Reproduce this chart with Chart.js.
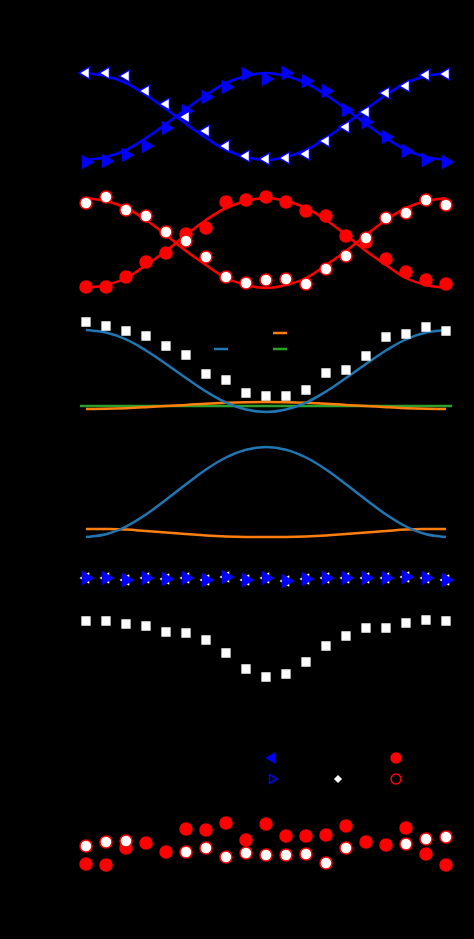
<!DOCTYPE html>
<html>
<head>
<meta charset="utf-8">
<script src="https://cdn.jsdelivr.net/npm/chart.js@4"></script>
<style>
  body { margin: 0; background: #000; width: 474px; height: 939px; overflow: hidden; }
  .panel { position: absolute; left: 0; width: 474px; }
</style>
</head>
<body>
<div class="panel" style="top:60px;height:115px"><canvas id="pA"></canvas></div>
<div class="panel" style="top:185px;height:115px"><canvas id="pB"></canvas></div>
<div class="panel" style="top:310px;height:110px"><canvas id="pC"></canvas></div>
<div class="panel" style="top:425px;height:120px"><canvas id="pD"></canvas></div>
<div class="panel" style="top:560px;height:40px"><canvas id="pE"></canvas></div>
<div class="panel" style="top:605px;height:85px"><canvas id="pF"></canvas></div>
<div class="panel" style="top:745px;height:45px"><canvas id="pG"></canvas></div>
<div class="panel" style="top:810px;height:70px"><canvas id="pH"></canvas></div>
<script>
// angle (deg)
const angles = [0, 20, 40, 60, 80, 100, 120, 140, 160, 180, 200, 220, 240, 260, 280, 300, 320, 340, 360];
const anglesWide = [-6, 0, 20, 40, 60, 80, 100, 120, 140, 160, 180, 200, 220, 240, 260, 280, 300, 320, 340, 360, 366];

// panel A (blue)
const blueOpen = [102, 102, 99, 84, 71, 58, 44, 29, 19, 16, 17, 21, 34, 48, 63, 82, 89, 100, 101];
const blueFilled = [13, 14, 20, 29, 47, 64, 78, 88, 101, 96, 102, 94, 84, 65, 53, 38, 24, 15, 13];
const blueFitDown = [102, 99, 92, 80, 66, 51, 37, 25, 18, 15, 18, 25, 37, 51, 66, 80, 92, 99, 102];
const blueFitUp = [15, 18, 25, 37, 51, 66, 80, 92, 99, 102, 99, 92, 80, 66, 51, 37, 25, 18, 15];

// panel B (red)
const redOpen = [97, 103, 90, 84, 68, 59, 43, 23, 17, 20, 21, 16, 31, 44, 62, 82, 87, 100, 95];
const redFilled = [13, 13, 23, 38, 47, 66, 72, 98, 100, 103, 98, 89, 84, 64, 58, 41, 28, 20, 16];
const redFitDown = [102, 99, 92, 80, 65, 49, 35, 22, 15, 12, 15, 22, 35, 49, 65, 80, 92, 99, 102];
const redFitUp = [12, 15, 22, 35, 49, 65, 80, 92, 99, 102, 99, 92, 80, 65, 49, 35, 22, 15, 12];

// panel C
const squaresC = [98, 94, 89, 84, 74, 65, 46, 40, 27, 24, 24, 30, 47, 50, 64, 83, 86, 93, 89];
const lineBlueC = [90, 87.5, 80.6, 69.5, 56, 42, 28.5, 17.4, 10.5, 8, 10.5, 17.4, 28.5, 42, 56, 69.5, 80.6, 87.5, 90];
const lineOrangeC = [11, 11.2, 11.8, 12.8, 14, 15, 16.3, 17.2, 17.8, 18, 17.8, 17.2, 16.3, 15, 14, 12.8, 11.8, 11.2, 11];
const lineGreenC = [14, 14, 14, 14, 14, 14, 14, 14, 14, 14, 14, 14, 14, 14, 14, 14, 14, 14, 14, 14, 14];

// panel D
const lineBlueD = [8, 10.7, 18.5, 30.5, 45.3, 60.7, 75.5, 87.5, 95.3, 98, 95.3, 87.5, 75.5, 60.7, 45.3, 30.5, 18.5, 10.7, 8];
const lineOrangeD = [16, 16, 15.5, 14, 12.5, 11, 9.5, 8.5, 8, 8, 8, 8.5, 9.5, 11, 12.5, 14, 15.5, 16, 16];

// panel E
const bowtieE = [22, 22, 20, 22, 21, 22, 20, 23, 20, 22, 19, 21, 22, 22, 22, 22, 23, 22, 20];

// panel F
const squaresF = [69, 69, 66, 64, 58, 57, 50, 37, 21, 13, 16, 28, 44, 54, 62, 62, 67, 70, 69];

// panel H
const redFilledH = [16, 15, 32, 37, 28, 51, 50, 57, 40, 56, 44, 44, 45, 54, 38, 35, 52, 26, 15];
const redOpenH = [34, 38, 39, null, null, 28, 32, 23, 27, 25, 25, 26, 17, 32, null, null, 36, 41, 43];

const BLUE = '#0000ff', RED = '#ff0000', WHITE = '#ffffff';
const TAB_BLUE = '#1f77b4', TAB_ORANGE = '#ff7f0e', TAB_GREEN = '#2ca02c';

function pts(ys, xs) {
    xs = xs || angles;
    return xs.map((a, i) => ({ x: a, y: ys[i] }));
}

function marks(ys, style, fill, edge, r, rot) {
    return {
        type: 'scatter', data: pts(ys), pointStyle: style, rotation: rot || 0,
        backgroundColor: fill, borderColor: edge, borderWidth: 1.5,
        pointRadius: r, clip: false
    };
}

function curve(ys, color, xs) {
    return {
        type: 'line', data: pts(ys, xs), borderColor: color, borderWidth: 2.5,
        pointRadius: 0, tension: 0.4, fill: false, clip: false
    };
}

function panel(id, h, datasets, plugins) {
    return new Chart(document.getElementById(id), {
        type: 'scatter',
        data: { datasets: datasets },
        options: {
            responsive: true,
            maintainAspectRatio: false,
            animation: false,
            layout: { autoPadding: false, padding: { left: 76, right: 18, top: 0, bottom: 0 } },
            scales: {
                x: { type: 'linear', min: -10, max: 370, display: false },
                y: { min: 0, max: h, display: false }
            },
            plugins: { legend: { display: false }, tooltip: { enabled: false } }
        },
        plugins: plugins || []
    });
}

// small legend keys drawn in chart pixel space
function keyLines(items) {
    return {
        id: 'keyLines',
        afterDraw(chart) {
            const ctx = chart.ctx;
            items.forEach(k => {
                ctx.save();
                ctx.strokeStyle = k.color;
                ctx.lineWidth = 2.5;
                ctx.beginPath();
                ctx.moveTo(k.x, k.y);
                ctx.lineTo(k.x + 14, k.y);
                ctx.stroke();
                ctx.restore();
            });
        }
    };
}

function keyMarks(items) {
    return {
        id: 'keyMarks',
        afterDraw(chart) {
            const ctx = chart.ctx;
            items.forEach(k => {
                ctx.save();
                ctx.fillStyle = k.fill;
                ctx.strokeStyle = k.edge;
                ctx.lineWidth = 1.5;
                Chart.helpers.drawPoint(ctx, { pointStyle: k.style, radius: k.r, rotation: k.rot || 0, borderWidth: 1.5 }, k.x, k.y);
                ctx.restore();
            });
        }
    };
}

panel('pA', 115, [
    marks(blueOpen, 'triangle', WHITE, BLUE, 7, -90),
    marks(blueFilled, 'triangle', BLUE, BLUE, 7, 90),
    curve(blueFitDown, BLUE),
    curve(blueFitUp, BLUE)
]);

panel('pB', 115, [
    marks(redOpen, 'circle', WHITE, RED, 6),
    marks(redFilled, 'circle', RED, RED, 6),
    curve(redFitDown, RED),
    curve(redFitUp, RED)
]);

panel('pC', 110, [
    marks(squaresC, 'rect', WHITE, WHITE, 5.5),
    curve(lineBlueC, TAB_BLUE),
    curve(lineOrangeC, TAB_ORANGE),
    curve(lineGreenC, TAB_GREEN, anglesWide)
], [keyLines([
    { x: 273, y: 23, color: TAB_ORANGE },
    { x: 214, y: 39, color: TAB_BLUE },
    { x: 273, y: 39, color: TAB_GREEN }
])]);

panel('pD', 120, [
    curve(lineBlueD, TAB_BLUE),
    curve(lineOrangeD, TAB_ORANGE)
]);

panel('pE', 40, [
    marks(bowtieE, 'triangle', BLUE, BLUE, 7, 90),
    marks(bowtieE, 'triangle', BLUE, WHITE, 5, -90)
]);

panel('pF', 85, [
    marks(squaresF, 'rect', WHITE, WHITE, 5.5)
]);

panel('pG', 45, [], [keyMarks([
    { x: 272, y: 13, style: 'triangle', rot: -90, fill: BLUE, edge: BLUE, r: 5 },
    { x: 272, y: 34, style: 'triangle', rot: 90, fill: 'rgba(0,0,0,0)', edge: BLUE, r: 5 },
    { x: 338, y: 34, style: 'rectRot', fill: WHITE, edge: WHITE, r: 3 },
    { x: 396, y: 13, style: 'circle', fill: RED, edge: RED, r: 5 },
    { x: 396, y: 34, style: 'circle', fill: 'rgba(0,0,0,0)', edge: RED, r: 5 }
])]);

panel('pH', 70, [
    marks(redOpenH, 'circle', WHITE, RED, 6),
    marks(redFilledH, 'circle', RED, RED, 6)
]);
</script>
</body>
</html>
